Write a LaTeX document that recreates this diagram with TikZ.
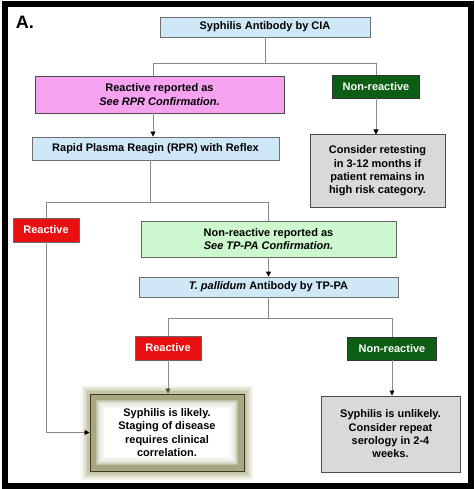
\documentclass[tikz,border=0pt]{standalone}
\usepackage{fontspec}
\setmainfont{Liberation Sans}
\usetikzlibrary{arrows.meta}
\definecolor{bluefill}{HTML}{CFE8F7}
\definecolor{pinkfill}{HTML}{F7A1F1}
\definecolor{darkgreen}{HTML}{0B5E14}
\definecolor{alertred}{HTML}{E81010}
\definecolor{palegreen}{HTML}{CDF7CD}
\definecolor{greyfill}{HTML}{D9D9D9}
\definecolor{olivefill}{HTML}{A9A781}
\definecolor{oliveglow}{HTML}{B3B18C}
\definecolor{olivedark}{HTML}{3B3B1F}
\definecolor{connline}{HTML}{8A8A8A}
\definecolor{boxline}{HTML}{6E6E6E}

\begin{document}
\begin{tikzpicture}[
	x=1pt, y=-1pt,
	box/.style={draw=boxline, line width=0.8pt, inner sep=0pt, align=center,
		font=\bfseries\fontsize{11}{13.3}\selectfont},
	bluebox/.style={box, fill=bluefill},
	pinkbox/.style={box, fill=pinkfill, draw=black!70},
	greenbox/.style={box, fill=palegreen, draw=black!60},
	greybox/.style={box, fill=greyfill, draw=black!70, line width=1pt},
	greenlabel/.style={box, fill=darkgreen, draw=black!80, text=white},
	redlabel/.style={box, fill=alertred, draw=black!60, text=white},
	likelybox/.style={box, fill=olivefill, draw=olivedark, line width=1pt,
		preaction={draw=oliveglow, line width=18pt, opacity=0.12},
		preaction={draw=oliveglow, line width=15pt, opacity=0.15},
		preaction={draw=oliveglow, line width=12pt, opacity=0.2},
		preaction={draw=oliveglow, line width=9pt, opacity=0.3},
		preaction={draw=oliveglow, line width=6pt, opacity=0.4},
		path picture={
			\foreach \d in {6,7,...,13}
				\fill[white, opacity=0.28] ([shift={(\d pt,-\d pt)}]path picture bounding box.north west)
					rectangle ([shift={(-\d pt,\d pt)}]path picture bounding box.south east);
			\fill[white] ([shift={(14pt,-14pt)}]path picture bounding box.north west)
				rectangle ([shift={(-14pt,14pt)}]path picture bounding box.south east);
		}},
	conn/.style={draw=connline, line width=0.8pt},
	arr/.style={conn, -{Triangle[width=5pt, length=5pt, color=black]}},
]
\useasboundingbox (0,0) rectangle (474,489);
% outer frame
\draw[line width=6pt] (5,4) rectangle (471,486);
\node[font=\bfseries\fontsize{18}{20}\selectfont] (title) at (25,22) {A.};

% \branch{parent anchor}{drop}{left child}{right child}
\def\branch#1#2#3#4{
	\draw[conn] (#1) -- ++(0,#2) coordinate (split);
	\draw[conn] (split) -| (#3);
	\draw[conn] (split) -| (#4);
}

\node[bluebox, minimum width=210pt, minimum height=20pt] (cia) at (265,27)
	{Syphilis Antibody by CIA};
\node[pinkbox, minimum width=249pt, minimum height=37pt] (pink) at (159.5,94.5)
	{Reactive reported as\\\textit{See RPR Confirmation.}};
\node[greenlabel, minimum width=87pt, minimum height=23pt] (nonA) at (376,86.5)
	{Non-reactive};
\node[bluebox, minimum width=247pt, minimum height=23pt] (rpr) at (155.5,148.5)
	{Rapid Plasma Reagin (RPR) with Reflex};
\node[greybox, minimum width=135pt, minimum height=72pt] (retest) at (377.5,171)
	{Consider retesting\\in 3-12 months if\\patient remains in\\high risk category.};
\node[redlabel, minimum width=66pt, minimum height=24pt] (reactA) at (46,230)
	{Reactive};
\node[greenbox, minimum width=255pt, minimum height=36pt] (tpconf) at (268.5,239)
	{Non-reactive reported as\\\textit{See TP-PA Confirmation.}};
\node[bluebox, minimum width=259pt, minimum height=20pt] (tppa) at (268.5,287)
	{\textit{T. pallidum} Antibody by TP-PA};
\node[redlabel, minimum width=66pt, minimum height=24pt] (reactB) at (168,348)
	{Reactive};
\node[greenlabel, minimum width=89pt, minimum height=23pt] (nonB) at (392,348.5)
	{Non-reactive};
\node[likelybox, minimum width=154pt, minimum height=77pt] (likely) at (167,432.5)
	{Syphilis is likely.\\Staging of disease\\requires clinical\\correlation.};
\node[greybox, minimum width=139pt, minimum height=76pt] (unlikely) at (390.5,434)
	{Syphilis is unlikely.\\Consider repeat\\serology in 2-4\\weeks.};

% connectors
\coordinate (pinkin) at ([xshift=-6.5pt]pink.north);
\coordinate (pinkout) at ([xshift=-6.5pt]pink.south);
\coordinate (rprout) at ([xshift=-5.5pt]rpr.south);
\branch{cia.south}{26}{pinkin}{nonA.north}
\draw[arr] (pinkout) -- (pinkout |- rpr.north);
\draw[arr] (nonA.south) -- (nonA.south |- retest.north);
\branch{rprout}{42}{reactA.north}{tpconf.north}
\draw[arr] (tpconf.south) -- (tppa.north);
\draw[arr] (reactA.south) |- (likely.west);
\branch{tppa.south}{21}{reactB.north}{nonB.north}
\draw[conn, -{Triangle[width=5pt, length=5pt, color=olivedark!80!olivefill]}]
	(reactB.south) -- (reactB.south |- likely.north);
\draw[arr] (nonB.south) -- (nonB.south |- unlikely.north);
\end{tikzpicture}
\end{document}
